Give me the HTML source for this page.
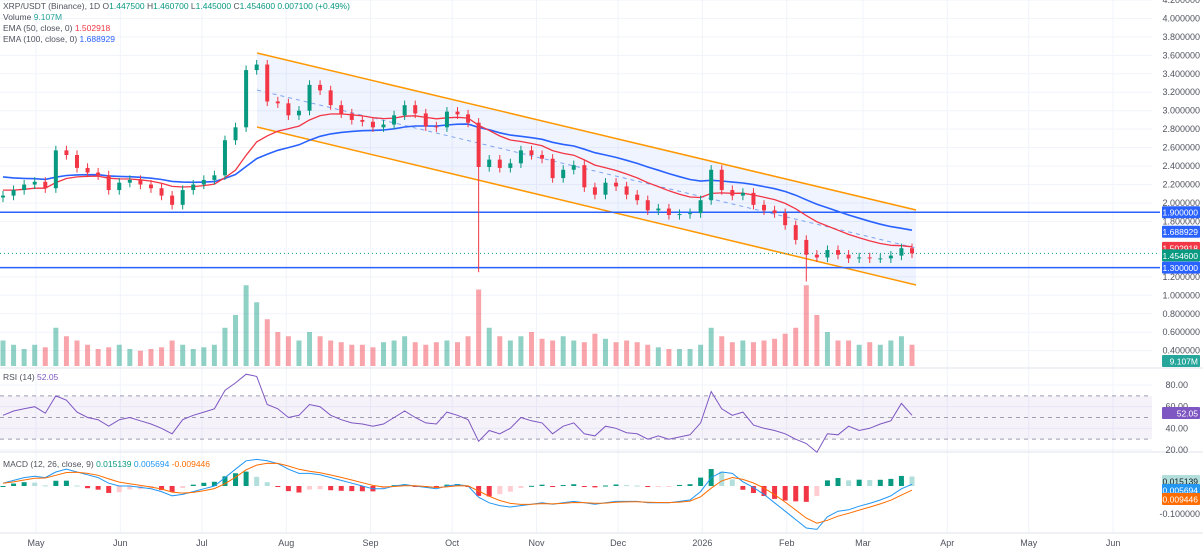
<!DOCTYPE html>
<html><head><meta charset="utf-8"><style>
html,body{margin:0;padding:0;background:#fff;}
svg{display:block;font-family:"Liberation Sans",sans-serif;}
</style></head><body>
<svg id="c" width="1203" height="549" viewBox="0 0 1203 549" xmlns="http://www.w3.org/2000/svg"></svg>
<script>
const closes=[2.08,2.14,2.20,2.23,2.16,2.57,2.52,2.38,2.33,2.30,
2.14,2.22,2.25,2.20,2.16,2.08,1.98,2.14,2.20,2.25,
2.30,2.68,2.82,3.44,3.50,3.10,3.08,2.95,3.00,3.28,
3.22,3.06,2.97,2.90,2.88,2.82,2.85,2.95,3.06,2.97,
2.83,2.82,2.99,2.96,2.87,2.39,2.47,2.38,2.43,2.57,
2.52,2.48,2.27,2.36,2.41,2.17,2.09,2.22,2.18,2.09,
2.03,1.92,1.94,1.87,1.88,1.89,2.03,2.36,2.14,2.08,
2.11,1.98,1.92,1.89,1.76,1.60,1.44,1.41,1.49,1.44,
1.40,1.41,1.40,1.40,1.43,1.51,1.454];
const spikeIdx=[45,76];
const spikeLow=[1.25,1.15];
const volumes=[30,25,20,25,22,45,35,30,25,20,22,25,20,18,20,22,30,25,20,22,
25,45,60,95,75,55,40,35,30,40,35,30,28,25,25,22,28,30,35,28,
25,28,30,28,35,90,45,35,30,35,40,32,30,35,30,28,38,32,28,30,
28,25,22,20,20,20,25,45,35,28,30,28,30,32,38,45,95,60,40,30,
30,25,28,25,30,35,25];
const rsi=[52,56,58,60,54,70,66,55,50,48,42,48,50,47,44,40,35,48,52,55,
58,75,82,90,88,62,58,50,52,62,60,52,48,45,44,42,44,50,56,50,
45,44,55,52,48,28,38,35,40,50,47,45,35,42,45,35,33,42,40,36,
35,30,33,30,32,34,45,74,58,52,55,43,40,38,35,30,26,18,35,34,
42,38,40,44,47,63,52];
const macd=[0.01,0.02,0.03,0.035,0.03,0.05,0.06,0.05,0.04,0.03,
0.01,0.0,0.0,-0.005,-0.01,-0.02,-0.035,-0.03,-0.02,-0.01,
0.0,0.03,0.06,0.09,0.095,0.09,0.08,0.06,0.045,0.045,
0.04,0.03,0.02,0.01,0.0,-0.01,-0.01,0.0,0.005,0.0,
-0.005,-0.01,0.0,0.005,0.0,-0.04,-0.06,-0.07,-0.075,-0.07,
-0.065,-0.06,-0.065,-0.06,-0.055,-0.06,-0.065,-0.06,-0.055,-0.055,
-0.055,-0.06,-0.06,-0.06,-0.055,-0.05,-0.02,0.03,0.05,0.045,
0.015,-0.005,-0.03,-0.06,-0.09,-0.12,-0.15,-0.155,-0.11,-0.09,
-0.085,-0.072,-0.062,-0.05,-0.035,-0.01,0.006];
const months=["May","Jun","Jul","Aug","Sep","Oct","Nov","Dec","2026","Feb","Mar","Apr","May","Jun"];
const monthDays=[9,40,70,101,132,162,193,223,254,285,313,344,374,405];
const priceTicks=[4.2,4.0,3.8,3.6,3.4,3.2,3.0,2.8,2.6,2.4,2.2,2.0,1.8,1.2,1.0,0.8,0.6,0.4];
const rsiTicks=[80,60,40,20];

const svg=document.getElementById('c');
const NS="http://www.w3.org/2000/svg";
function mk(tag,attrs,parent){const e=document.createElementNS(NS,tag);for(const k in attrs)e.setAttribute(k,attrs[k]);(parent||svg).appendChild(e);return e;}
const N=closes.length;
const X0=3,X1=912;
const xi=i=>X0+i*(X1-X0)/(N-1);
const dayX=d=>d*2.72-(9*2.72-36);
const py=p=>203-(p-2)*92.3;
const ry=v=>450-(v-20)*1.083;
const my=v=>486-v*280;
const PW=1152;

for(let k=0;k<months.length;k++){const x=dayX(monthDays[k]);
 const g=mk('line',{x1:x,x2:x,y1:0,y2:533,stroke:'#f0f3fa','stroke-width':1});
 }
for(const p of priceTicks){const g=mk('line',{x1:0,x2:PW,y1:py(p),y2:py(p),stroke:'#f0f3fa'});
 }
for(const v of rsiTicks){const g=mk('line',{x1:0,x2:PW,y1:ry(v),y2:ry(v),stroke:'#f0f3fa'});
 }

const chX0=257,chX1=916;
const ch=mk('polygon',{points:`${chX0},53 ${chX1},210 ${chX1},285 ${chX0},127`,fill:'rgba(41,98,255,0.07)'});

let l=mk('line',{x1:chX0,y1:53,x2:chX1,y2:210,stroke:'#ff9800','stroke-width':1.5});

l=mk('line',{x1:chX0,y1:127,x2:chX1,y2:285,stroke:'#ff9800','stroke-width':1.5});

l=mk('line',{x1:chX0,y1:90,x2:chX1,y2:248,stroke:'#7fa4f0','stroke-width':1,'stroke-dasharray':'4,4'});


for(const p of [1.9,1.3]){const h=mk('line',{x1:0,x2:1160,y1:py(p),y2:py(p),stroke:'#2962ff','stroke-width':1.5});
 }
l=mk('line',{x1:0,x2:1160,y1:py(1.4546),y2:py(1.4546),stroke:'#089981','stroke-width':1,'stroke-dasharray':'1,3'});


const vBase=366;
for(let i=0;i<N;i++){const o=i?closes[i-1]:closes[0];const up=closes[i]>=o;const h=volumes[i]*0.85;
 const r=mk('rect',{x:xi(i)-2.5,y:vBase-h,width:5,height:h,fill:up?'rgba(8,153,129,0.45)':'rgba(242,54,69,0.45)'});
 }

function ema(seed,alpha){let e=seed;return closes.map(c=>(e=e+alpha*(c-e)));}
const ema50=ema(2.15,2/13.5),ema100=ema(2.3,2/26);
function pathOf(arr,fy){return arr.map((v,i)=>(i?'L':'M')+xi(i).toFixed(1)+','+fy(v).toFixed(1)).join('');}
let p=mk('path',{d:pathOf(ema100,py),fill:'none',stroke:'#2962ff','stroke-width':1.6});

p=mk('path',{d:pathOf(ema50,py),fill:'none',stroke:'#f23645','stroke-width':1.3});


for(let i=0;i<N;i++){const o=i?closes[i-1]:closes[0]-0.02,c=closes[i];const up=c>=o;const col=up?'#089981':'#f23645';
 let hi=Math.max(o,c)+0.05,lo=Math.min(o,c)-0.05;const s=spikeIdx.indexOf(i);if(s>=0)lo=spikeLow[s];
 const w=mk('line',{x1:xi(i),x2:xi(i),y1:py(hi),y2:py(lo),stroke:col,'stroke-width':1});
 
 const top=py(Math.max(o,c)),bh=Math.max(1,Math.abs(py(o)-py(c)));
 const b=mk('rect',{x:xi(i)-2,y:top,width:4,height:bh,fill:col});
 }

for(const y of [368,452,533]){const s=mk('line',{x1:0,x2:1203,y1:y,y2:y,stroke:'#e0e3eb'});
 }

const band=mk('rect',{x:0,y:ry(70),width:PW,height:ry(30)-ry(70),fill:'rgba(126,87,194,0.08)'});

for(const v of [70,50,30]){const d=mk('line',{x1:0,x2:PW,y1:ry(v),y2:ry(v),stroke:'#9e9eb0','stroke-dasharray':'4,4'});
 }
p=mk('path',{d:pathOf(rsi,ry),fill:'none',stroke:'#7e57c2','stroke-width':1});


const sig=[];{let e=macd[0];for(const m of macd){e=e+0.45*(m-e);sig.push(e);}}
for(let i=0;i<N;i++){const hv=(macd[i]-sig[i])*1.6;const prev=i?(macd[i-1]-sig[i-1])*1.6:hv;
 const col=hv>=0?(hv>=prev?'#089981':'#b2dfdb'):(hv<=prev?'#f23645':'#ffcdd2');
 const y0=my(0),y1=my(hv);
 const r=mk('rect',{x:xi(i)-2.5,y:Math.min(y0,y1),width:5,height:Math.max(1,Math.abs(y1-y0)),fill:col});
 }
p=mk('path',{d:pathOf(macd,my),fill:'none',stroke:'#2196f3','stroke-width':1});

p=mk('path',{d:pathOf(sig,my),fill:'none',stroke:'#ff6d00','stroke-width':1});


function txt(x,y,s,attrs,name){const t=mk('text',Object.assign({x:x,y:y,'font-size':9,fill:'#50535e'},attrs||{}));t.textContent=s;
 return t;}
for(const v of priceTicks)txt(1200,py(v)+3,v.toFixed(6),{'text-anchor':'end'},'price-tick-label');
for(const v of rsiTicks)txt(1188,ry(v)+3,v.toFixed(2),{'text-anchor':'end'},'rsi-tick-label');
txt(1200,my(-0.1)+3,'-0.100000',{'text-anchor':'end'},'macd-tick-label');
for(let k=0;k<months.length;k++)txt(dayX(monthDays[k]),546,months[k],{'text-anchor':'middle'},'date-axis-label');

function tag(y,s,bg,name,fg){const r=mk('rect',{x:1162,y:y-6,width:38,height:12,fill:bg,rx:1});
 
 txt(1198,y+3.5,s,{'text-anchor':'end',fill:fg||'#fff','font-size':8.5},name);}
tag(py(1.9),'1.900000','#2962ff','level-1-9-tag');
tag(py(1.688929),'1.688929','#2962ff','ema100-tag');
tag(py(1.502918)-1,'1.502918','#f23645','ema50-tag');
tag(py(1.4546)+2,'1.454600','#089981','last-price-tag');
tag(py(1.3),'1.300000','#2962ff','level-1-3-tag');
tag(361,'9.107M','#26a69a','volume-tag');
tag(413,'52.05','#7e57c2','rsi-value-tag');
tag(481,'0.015139','#b2dfdb','macd-hist-tag','#131722');
tag(490,'0.005694','#2196f3','macd-value-tag');
tag(499,'-0.009446','#ff6d00','macd-signal-tag');

function leg(y,parts,name){const t=mk('text',{x:3,y:y,'font-size':8.5,fill:'#50535e'});
 
 for(const [s,c] of parts){const sp=mk('tspan',{fill:c},t);sp.textContent=s;}}
leg(9,[['XRP/USDT (Binance), 1D  O','#50535e'],['1.447500','#089981'],['  H','#50535e'],['1.460700','#089981'],['  L','#50535e'],['1.445000','#089981'],['  C','#50535e'],['1.454600  0.007100 (+0.49%)','#089981']],'symbol-legend');
leg(20,[['Volume  ','#50535e'],['9.107M','#26a69a']],'volume-legend');
leg(31,[['EMA (50, close, 0)  ','#50535e'],['1.502918','#f23645']],'ema50-legend');
leg(42,[['EMA (100, close, 0)  ','#50535e'],['1.688929','#2962ff']],'ema100-legend');
leg(380,[['RSI (14)  ','#50535e'],['52.05','#7e57c2']],'rsi-legend');
leg(467,[['MACD (12, 26, close, 9)  ','#50535e'],['0.015139  ','#089981'],['0.005694  ','#2196f3'],['-0.009446','#ff6d00']],'macd-legend');
</script>
</body></html>
